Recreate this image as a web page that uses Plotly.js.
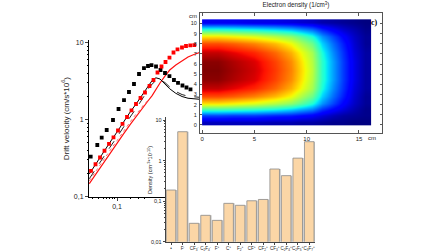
<!DOCTYPE html>
<html><head><meta charset="utf-8">
<script src="https://cdn.plot.ly/plotly-3.0.1.min.js"></script>
<style>html,body{margin:0;padding:0;background:#fff;}#chart{width:448px;height:252px;}</style>
</head><body><div id="chart"></div>
<script>
// ---- Panel: drift velocity (log-log) ----
const lineX = [0.025,0.035,0.05,0.07,0.1,0.14,0.2,0.26,0.32,0.39,0.47,0.58,0.7,0.86,1.1,1.4,1.9,2.6,3.5,4.7,6.4];
const blackSolidY = [0.197,0.270,0.369,0.506,0.692,0.948,1.297,1.599,1.913,2.29,2.74,3.23,3.50,3.38,2.91,2.52,2.20,2.00,1.90,1.86,1.84];
const blackDashY = [0.171,0.234,0.320,0.437,0.596,0.816,1.117,1.394,1.673,2.03,2.47,2.91,3.20,3.28,3.04,2.66,2.32,2.12,2.02,1.97,1.95];
const redSolidY = [0.1475,0.199,0.268,0.362,0.488,0.658,0.887,1.10,1.305,1.552,1.75,2.06,2.50,3.00,3.69,4.42,5.13,5.87,6.52,7.03,7.50];
const redDashX = [0.025,0.035,0.05,0.07,0.1,0.14,0.2,0.26,0.32,0.39,0.47];
const redDashY = [0.161,0.218,0.294,0.396,0.534,0.720,0.962,1.186,1.357,1.599,1.776];
const blackSqX = [0.0268,0.0373,0.0465,0.0597,0.0818,0.108,0.142,0.182,0.234,0.301,0.386,0.472,0.562,0.705,0.883,1.105,1.38,1.73,2.12,2.65,3.24,3.96];
const blackSqY = [0.331,0.469,0.584,0.735,0.991,1.377,1.80,2.29,2.91,3.92,4.69,4.98,5.13,4.91,4.42,4.04,3.69,3.28,3.00,2.78,2.62,2.47];
const redSqX = [0.0272,0.0341,0.0427,0.0535,0.0670,0.0839,0.1051,0.1317,0.1650,0.2066,0.2588,0.3242,0.4061,0.5087,0.6216,0.7593,0.9277,1.133,1.384,1.691,2.066,2.588,3.162,3.922,4.790];
const redSqY = [0.216,0.264,0.323,0.395,0.484,0.591,0.724,0.885,1.084,1.325,1.599,1.913,2.256,2.74,3.28,4.10,4.91,5.62,6.42,7.46,8.21,8.66,9.06,9.25,9.33];
const driftTickVals = [0.1,1,10];
const driftTickText = ['0,1','1','10'];

// ---- Panel: species densities (bars, log) ----
const species = ['•','F<sup>-</sup>','CF<sub>3</sub><sup>-</sup>','C<sub>2</sub>F<sub>4</sub><sup>-</sup>','F<sup>+</sup>','C<sup>+</sup>','F<sub>2</sub><sup>+</sup>','CF<sup>+</sup>','CF<sub>2</sub><sup>+</sup>','CF<sub>3</sub><sup>+</sup>','C<sub>2</sub>F<sub>4</sub><sup>+</sup>','C<sub>2</sub>F<sub>5</sub><sup>+</sup>','C<sub>3</sub>F<sub>7</sub><sup>+</sup>'];
const densities = [0.188,5.15,0.0284,0.0447,0.0336,0.0883,0.079,0.102,0.11,0.62,0.425,1.15,2.92];
const densTickVals = [0.01,0.1,1,10];
const densTickText = ['0,01','0,1','1','10'];

// ---- Panel: electron density map ----
const mapX = [0.5,1.5,3,5,7,8.5,9.5,10.5,11.5,12.5,13.5,14.5,15.6];
const mapY = [0.3,0.9,1.5,2.1,2.8,3.6,4.5,5.4,6.3,7.2,8.0,8.7,9.4,10.07];
const mapZ = [
 [0.05,0.05,0.05,0.05,0.04,0.04,0.03,0.03,0.02,0.01,0.01,0.00,0.00],
 [0.19,0.19,0.18,0.18,0.16,0.15,0.13,0.11,0.08,0.05,0.03,0.02,0.01],
 [0.43,0.43,0.42,0.40,0.37,0.33,0.29,0.25,0.17,0.12,0.08,0.04,0.01],
 [0.67,0.67,0.65,0.62,0.57,0.52,0.46,0.39,0.27,0.19,0.12,0.06,0.02],
 [0.83,0.83,0.81,0.77,0.71,0.64,0.56,0.48,0.33,0.23,0.15,0.07,0.02],
 [0.94,0.94,0.91,0.87,0.80,0.72,0.64,0.55,0.38,0.26,0.17,0.08,0.03],
 [0.99,0.99,0.96,0.92,0.84,0.76,0.67,0.57,0.40,0.28,0.18,0.09,0.03],
 [1.00,1.00,0.97,0.93,0.85,0.77,0.68,0.58,0.40,0.28,0.18,0.09,0.03],
 [0.99,0.99,0.96,0.92,0.84,0.76,0.67,0.57,0.40,0.28,0.18,0.09,0.03],
 [0.94,0.94,0.91,0.87,0.80,0.72,0.64,0.55,0.38,0.26,0.17,0.08,0.03],
 [0.83,0.83,0.81,0.77,0.71,0.64,0.56,0.48,0.33,0.23,0.15,0.07,0.02],
 [0.67,0.67,0.65,0.62,0.57,0.52,0.46,0.39,0.27,0.19,0.12,0.06,0.02],
 [0.40,0.40,0.39,0.37,0.34,0.31,0.27,0.23,0.16,0.11,0.07,0.04,0.01],
 [0.10,0.10,0.10,0.09,0.09,0.08,0.07,0.06,0.04,0.03,0.02,0.01,0.00]
];
const mapXTicks = [0,5,10,15];
const mapYTicks = [0,1,2,3,4,5,6,7,8,9,10];

const jet = [[0,'rgb(0,0,128)'],[0.11,'rgb(0,0,255)'],[0.125,'rgb(0,0,255)'],[0.34,'rgb(0,219,255)'],[0.375,'rgb(20,255,226)'],[0.5,'rgb(123,255,123)'],[0.64,'rgb(238,255,8)'],[0.66,'rgb(255,236,0)'],[0.89,'rgb(255,19,0)'],[0.91,'rgb(232,0,0)'],[1,'rgb(128,0,0)']];

const traces = [
  {type:'scatter',mode:'lines',x:lineX,y:redSolidY,line:{color:'#ff1010',width:1.2},xaxis:'x',yaxis:'y'},
  {type:'scatter',mode:'lines',x:redDashX,y:redDashY,line:{color:'#f07070',width:1,dash:'dot'},xaxis:'x',yaxis:'y'},
  {type:'scatter',mode:'lines',x:lineX,y:blackDashY,line:{color:'#222',width:1,dash:'dash'},xaxis:'x',yaxis:'y'},
  {type:'scatter',mode:'lines',x:lineX,y:blackSolidY,line:{color:'#000',width:1},xaxis:'x',yaxis:'y'},
  {type:'scatter',mode:'markers',x:blackSqX,y:blackSqY,marker:{symbol:'square',size:3.8,color:'#000'},xaxis:'x',yaxis:'y'},
  {type:'scatter',mode:'markers',x:redSqX,y:redSqY,marker:{symbol:'square',size:3.8,color:'#ff0000'},xaxis:'x',yaxis:'y'},
  {type:'bar',x:species,y:densities,width:0.83,offset:-0.3,marker:{color:'#c9c9c9'},xaxis:'x2',yaxis:'y2',hoverinfo:'skip'},
  {type:'bar',x:species,y:densities,width:0.83,offset:-0.415,marker:{color:'#fbd6a6',line:{color:'#8c8c8c',width:0.8}},xaxis:'x2',yaxis:'y2'},
  {type:'heatmap',x:mapX,y:mapY,z:mapZ,zmin:0,zmax:1,colorscale:jet,showscale:false,zsmooth:'best',xaxis:'x3',yaxis:'y3'}
];

const P = v => v/448, Q = v => 1 - v/252;
const base = {showgrid:false, zeroline:false, automargin:false, showline:true, linecolor:'#000', linewidth:1};
const layout = {
  width:448, height:252, margin:{l:0,r:0,t:0,b:0},
  paper_bgcolor:'#fff', plot_bgcolor:'#fff', showlegend:false, barmode:'overlay', separators:',.',
  font:{family:'Arial, "Liberation Sans", sans-serif', color:'#222', size:7},
  title:{text:'Electron density (1/cm<sup>3</sup>)', x:P(296), xref:'paper', xanchor:'center', y:Q(5), yref:'container', yanchor:'middle', font:{size:6.3, color:'#222'}},
  xaxis:Object.assign({}, base, {type:'log', domain:[P(89),P(200)], range:[-1.6087,0.8043], anchor:'y',
    ticks:'outside', ticklen:3, tickvals:[0.1], ticktext:['0,1'], tickfont:{size:7},
    minor:{ticks:'outside', ticklen:1.5, tickcolor:'#000', tickvals:[0.03,0.04,0.05,0.06,0.07,0.08,0.09,0.2,0.3,0.4]}}),
  yaxis:Object.assign({}, base, {type:'log', domain:[Q(196.7),Q(40.4)], range:[-1,1.03], anchor:'x',
    ticks:'outside', ticklen:3, tickvals:driftTickVals, ticktext:driftTickText, tickfont:{size:7},
    minor:{ticks:'outside', ticklen:1.5, tickcolor:'#000', tickvals:[0.2,0.3,0.4,0.5,0.6,0.7,0.8,0.9,2,3,4,5,6,7,8,9]},
    title:{text:'Drift velocity (cm/s*10<sup>6</sup>)', font:{size:8}, standoff:3}}),
  xaxis2:Object.assign({}, base, {domain:[P(165.7),P(315)], range:[-0.46,12.5], anchor:'y2', linecolor:'#444',
    ticks:'outside', ticklen:2, tickcolor:'#444', tickfont:{size:4.5}, tickangle:0}),
  yaxis2:Object.assign({}, base, {type:'log', domain:[Q(241.7),Q(117.3)], range:[-2,1.067], anchor:'x2', linecolor:'#444',
    ticks:'outside', ticklen:2, tickcolor:'#444', tickvals:densTickVals, ticktext:densTickText, tickfont:{size:5.5},
    minor:{ticks:'outside', ticklen:1, tickcolor:'#444', tickvals:[0.02,0.03,0.04,0.05,0.06,0.07,0.08,0.09,0.2,0.3,0.4,0.5,0.6,0.7,0.8,0.9,2,3,4,5,6,7,8,9]}}),
  xaxis3:Object.assign({}, base, {domain:[P(200),P(382)], range:[-0.2,17.2], anchor:'y3', linecolor:'#555', mirror:'ticks',
    ticks:'inside', ticklen:3, tickcolor:'#555', tickvals:mapXTicks, tickfont:{size:6}}),
  yaxis3:Object.assign({}, base, {domain:[Q(133),Q(12.7)], range:[-0.8,11.06], anchor:'x3', linecolor:'#555', mirror:'ticks',
    ticks:'inside', ticklen:2, tickcolor:'#555', tickvals:mapYTicks, tickfont:{size:5.5}, ticklabelstandoff:1}),
  annotations:[
    {text:'Density (cm<sup>-3</sup>*10<sup>-10</sup>)', textangle:-90, x:P(150), y:Q(196), xref:'paper', yref:'paper', showarrow:false, font:{size:5.5}, bgcolor:'#fff'},
    {text:'cm', x:P(193), y:Q(11), xref:'paper', yref:'paper', showarrow:false, font:{size:6}},
    {text:'cm', x:P(378), y:Q(138), xref:'paper', yref:'paper', showarrow:false, font:{size:6}},
    {text:'<b>c)</b>', x:P(380), y:Q(16), xref:'paper', yref:'paper', showarrow:false, font:{size:8, family:'"Liberation Serif", "DejaVu Serif", serif', color:'#000'}}
  ]
};
Plotly.newPlot('chart', traces, layout, {staticPlot:true, displayModeBar:false});
</script>
</body></html>
